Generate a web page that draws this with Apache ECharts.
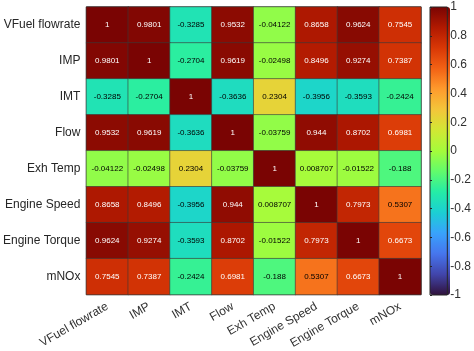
<!DOCTYPE html>
<html>
<head>
<meta charset="utf-8">
<script src="https://cdn.jsdelivr.net/npm/echarts@6/dist/echarts.min.js"></script>
<style>
  html, body { margin: 0; padding: 0; background: #fff; }
  #chart { width: 474px; height: 351px; }
</style>
</head>
<body>
<div id="chart"></div>
<script>
// 变量名
const names = ["VFuel flowrate", "IMP", "IMT", "Flow", "Exh Temp", "Engine Speed", "Engine Torque", "mNOx"];
// 相关系数矩阵 (按行)
const rowVFuel = [1, 0.9801, -0.3285, 0.9532, -0.04122, 0.8658, 0.9624, 0.7545];
const rowIMP = [0.9801, 1, -0.2704, 0.9619, -0.02498, 0.8496, 0.9274, 0.7387];
const rowIMT = [-0.3285, -0.2704, 1, -0.3636, 0.2304, -0.3956, -0.3593, -0.2424];
const rowFlow = [0.9532, 0.9619, -0.3636, 1, -0.03759, 0.944, 0.8702, 0.6981];
const rowExh = [-0.04122, -0.02498, 0.2304, -0.03759, 1, 0.008707, -0.01522, -0.188];
const rowSpeed = [0.8658, 0.8496, -0.3956, 0.944, 0.008707, 1, 0.7973, 0.5307];
const rowTorque = [0.9624, 0.9274, -0.3593, 0.8702, -0.01522, 0.7973, 1, 0.6673];
const rowNOx = [0.7545, 0.7387, -0.2424, 0.6981, -0.188, 0.5307, 0.6673, 1];
const rows = [rowVFuel, rowIMP, rowIMT, rowFlow, rowExh, rowSpeed, rowTorque, rowNOx];
// 色条刻度
const barMin = -1;
const barMax = 1;
const barStep = 0.2;
// turbo 色图
const turbo = ['#30123b', '#4145ab', '#4675ed', '#39a2fc', '#1bcfd4', '#24eca6', '#61fc6c', '#a4fc3b',
  '#d1e834', '#f3c63a', '#fe9b2d', '#f36315', '#d93806', '#b11901', '#7a0403'];

const font = "'Liberation Sans', Arial, sans-serif";
const data = [];
rows.forEach((r, y) => {
  r.forEach((v, x) => {
    data.push({
      value: [x, y, v],
      label: { color: Math.abs(v) > 0.6 ? "#ffffff" : "#000000" }
    });
  });
});

const chart = echarts.init(document.getElementById("chart"));
const option = {
  backgroundColor: "#ffffff",
  animation: false,
  grid: [
    { left: 83, top: 7, width: 338, height: 288, show: true, borderColor: "#262626", borderWidth: 1 },
    // 色条外框
    { left: 430, top: 7, width: 20, height: 288, show: true, z: 10, backgroundColor: "transparent", borderColor: "#262626", borderWidth: 1 }
  ],
  xAxis: [
    {
      type: "category",
      data: names,
      gridIndex: 0,
      axisLine: { show: false },
      axisTick: { show: false },
      splitArea: { show: false },
      axisLabel: { rotate: 30, margin: 11, fontSize: 12, color: "#303030", fontFamily: font, interval: 0 }
    },
    { type: "value", gridIndex: 1, show: false, min: 0, max: 1 }
  ],
  yAxis: [
    {
      type: "category",
      data: names,
      inverse: true,
      gridIndex: 0,
      axisLine: { show: false },
      axisTick: { show: false },
      axisLabel: { margin: 6, fontSize: 12, color: "#262626", fontFamily: font, interval: 0 }
    },
    {
      type: "value",
      gridIndex: 1,
      position: "right",
      z: 10,
      min: barMin,
      max: barMax,
      interval: barStep,
      axisLine: { show: false },
      axisTick: { show: true, inside: false, length: 2, lineStyle: { color: "#262626" } },
      splitLine: { show: false },
      axisLabel: {
        margin: 3, fontSize: 12, color: "#303030", fontFamily: font,
        formatter: v => String(Math.round(v * 10) / 10)
      }
    }
  ],
  visualMap: {
    type: "continuous",
    min: barMin,
    max: barMax,
    seriesIndex: 0,
    calculable: false,
    orient: "vertical",
    left: 430,
    top: 7,
    padding: 0,
    z: 1,
    itemWidth: 20,
    itemHeight: 288,
    text: null,
    showLabel: false,
    inRange: { color: turbo }
  },
  series: [
    {
      type: "heatmap",
      xAxisIndex: 0,
      yAxisIndex: 0,
      data: data,
      itemStyle: { borderColor: "#3a3a3a", borderWidth: 0.6 },
      label: {
        show: true,
        fontSize: 8,
        fontFamily: font,
        formatter: p => String(p.value[2])
      },
      emphasis: { disabled: true }
    }
  ]
};
chart.setOption(option);
</script>
</body>
</html>
